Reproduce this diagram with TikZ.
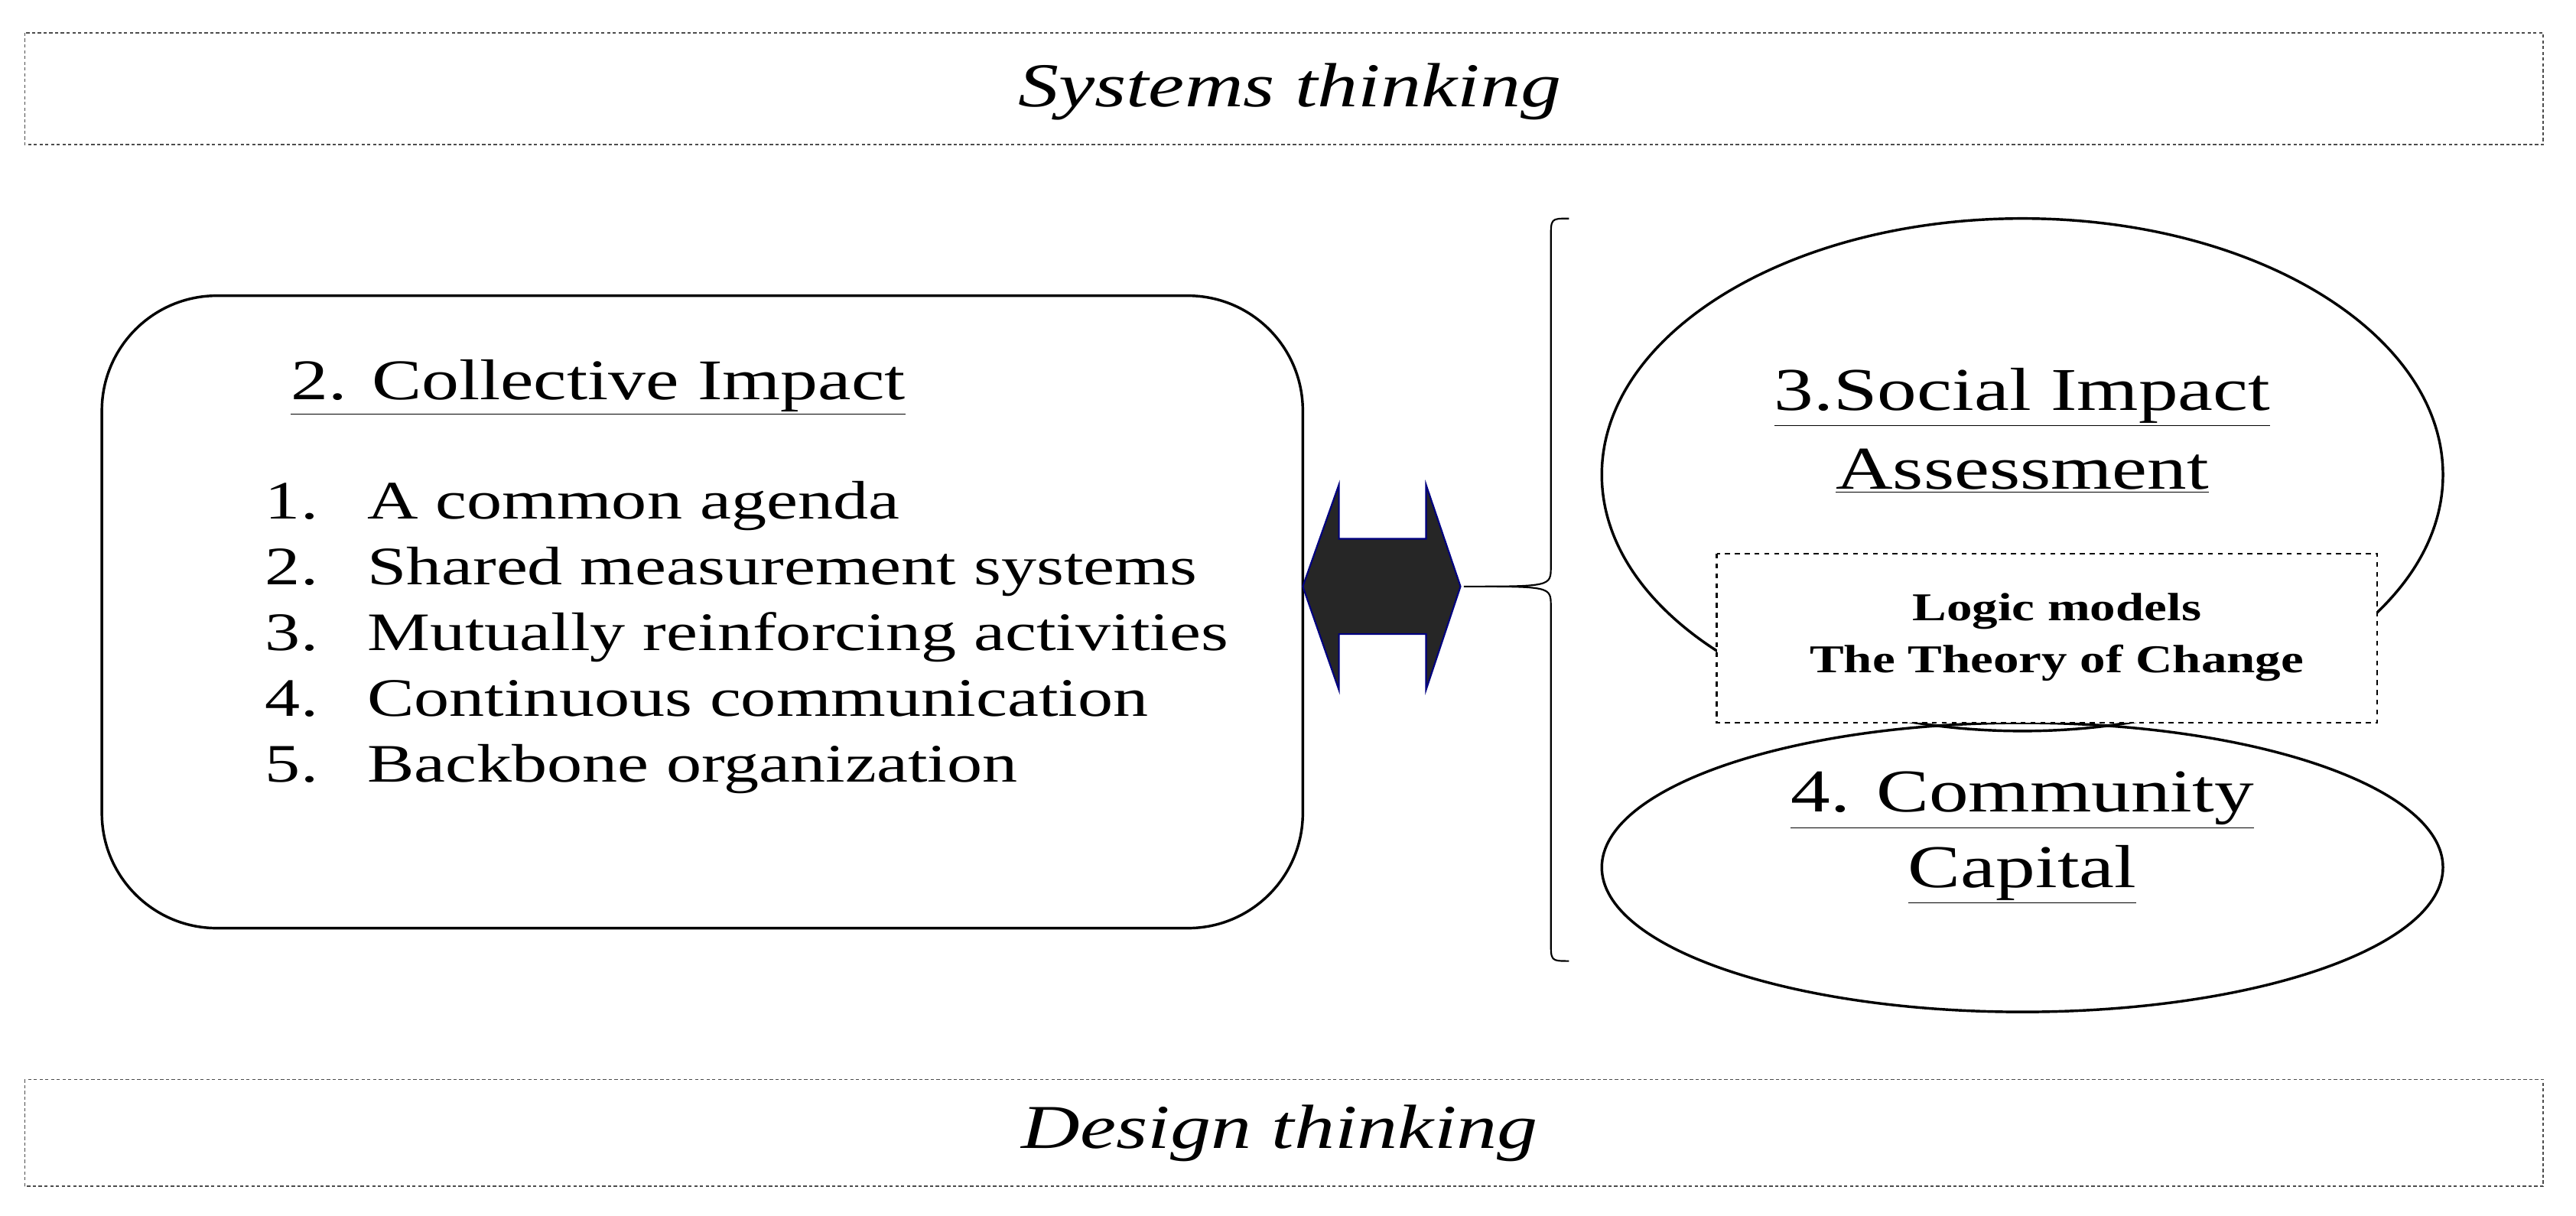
\documentclass[tikz,border=0pt]{standalone}
\usepackage{fontspec}
\setmainfont[FakeStretch=1.3]{Liberation Serif}
\begin{document}
\begin{tikzpicture}[x=1pt,y=-1pt,
  band/.style={draw=black!70,dash pattern=on 2pt off 1.5pt,line width=0.6pt},
  ttl/.style={font=\fontsize{38}{44}\selectfont\itshape},
  head/.style={font=\fontsize{35}{46}\selectfont},
  item/.style={font=\fontsize{33}{38}\selectfont,anchor=base west},
  sm/.style={font=\fontsize{24}{32}\selectfont\bfseries,align=center}]
\useasboundingbox (0,0) rectangle (1568,740);
\draw[band] (15,20) rectangle (1548,88);
\node[ttl] (st) at (785,56) {Systems thinking};
\draw[band] (15,657) rectangle (1548,722);
\node[ttl] (dt) at (779,690) {Design thinking};
\draw[line width=1.6pt,rounded corners=70pt] (62,180) rectangle (793,565);
\node[head] (ci) at (364,236) {\underline{2. Collective Impact}};
\foreach \t [count=\k] in {{A common agenda},{Shared measurement systems},{Mutually reinforcing activities},{Continuous communication},{Backbone organization}}
  {\node[item] (n\k) at (158,{316+(\k-1)*40}) {\k.};
   \node[item] (t\k) at (220,{316+(\k-1)*40}) {\t};}
\draw[fill=black!85,draw=blue!50!black,line width=1pt] (793,357)--(815,295)--(815,328)--(868,328)--(868,295)--(889,357)--(868,420)--(868,386)--(815,386)--(815,420)--cycle;
\draw[line width=1pt] (955,133) .. controls (944,133) .. (944,145) -- (944,345) .. controls (944,357) .. (891,357) .. controls (944,357) .. (944,369) -- (944,573) .. controls (944,585) .. (955,585);
\draw[line width=1.6pt] (1231,289) ellipse [x radius=256, y radius=156];
\draw[line width=1.6pt] (1231,528) ellipse [x radius=256, y radius=88];
\node[head,align=center,font=\fontsize{37}{48}\selectfont] (sia) at (1231,262) {\underline{3.Social Impact}\\\underline{Assessment}};
\node[head,align=center,font=\fontsize{37}{46}\selectfont] (cc) at (1231,510) {\underline{4. Community}\\\underline{Capital}};
\draw[fill=white,line width=1.2pt,dashed] (1045,337) rectangle (1447,440);
\node[sm] (lm) at (1252,388) {Logic models\\The Theory of Change};
\end{tikzpicture}
\end{document}
